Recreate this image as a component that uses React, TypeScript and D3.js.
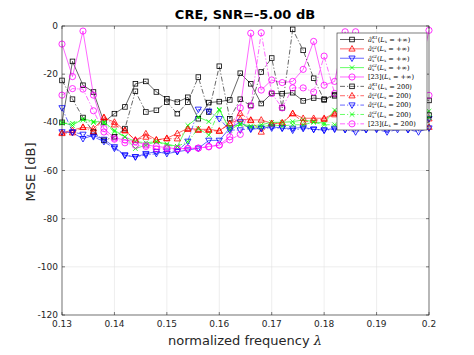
import React from "react";
import * as d3 from "d3";

const freqs = [0.13, 0.132, 0.134, 0.136, 0.138, 0.14, 0.142, 0.144, 0.146, 0.148, 0.15, 0.152, 0.154, 0.156, 0.158, 0.16, 0.162, 0.164, 0.166, 0.168, 0.17, 0.172, 0.174, 0.176, 0.178, 0.18, 0.182, 0.184, 0.186, 0.188, 0.19, 0.192, 0.194, 0.196, 0.198, 0.2];

const k1Inf = [-40, -14.7, -24.6, -27.4, -39.9, -36.4, -33.6, -24, -23, -27.4, -30.2, -31.6, -29.6, -38.5, -31.8, -31.4, -30.7, -19.6, -24, -32.2, -28, -28.1, -27.7, -31.1, -29.9, -30.4, -28.5, -30, -31, -30, -32, -31, -30, -31, -30, -30.9];
const c2aInf = [-44.3, -43.3, -42, -42.6, -38.2, -39.9, -43.3, -47.5, -44.7, -47.3, -46.6, -44.6, -42.5, -42.9, -42.9, -43.5, -40.4, -38.7, -39, -39, -40.4, -40.4, -36.3, -38.3, -38.3, -38.3, -36.3, -40, -41, -40, -39, -40, -41, -40, -39, -38.5];
const c2bInf = [-44, -44.3, -46.8, -45.4, -47.1, -50.2, -53.7, -54.4, -53, -52.2, -53, -52.2, -51.5, -50.8, -47.5, -47.5, -42.4, -39.9, -42.9, -42.5, -41.8, -42.4, -42.5, -42.1, -42.9, -43.2, -42.5, -43, -42, -43, -42.5, -43, -42, -43, -42, -38.5];
const c2cInf = [-40, -41.3, -38.5, -39.6, -39.9, -43.3, -46, -50.9, -49.5, -48, -49, -50, -41.3, -37.8, -39.7, -34.6, -43.3, -40.6, -41.5, -41, -40, -40, -39.7, -39, -39.7, -40.4, -34.9, -38, -39, -38, -37, -38, -39, -38, -37, -35.4];
const ref23Inf = [-7.5, -21, -2.1, -28.7, -42.6, -46.5, -47.3, -48, -49.4, -50, -50.5, -51, -50.8, -50.7, -50, -49.4, -46, -34, -3, -26.6, -22.4, -23.5, -23, -18, -6.4, -24.6, -23, -2.4, -20, -25, -22, -28, -20, -25, -22, -1.8];

const k1L200 = [-22.6, -30.4, -38, -44, -47.5, -46, -42.6, -27.1, -35.7, -35, -31.6, -36.4, -31.6, -21.2, -35.7, -16.7, -38.5, -30.4, -33, -19.1, -13.3, -34, -1.4, -10.1, -21.7, -30.7, -29, -30, -32, -30, -31, -33, -30, -32, -31, -37];
const c2aL200 = [-44.6, -44.3, -42.1, -43.9, -37.9, -41, -43.5, -47.3, -46.1, -47.3, -46.8, -46.8, -42.9, -43.3, -43.3, -43.7, -40.6, -36.3, -39.2, -44, -40.6, -40.1, -36.4, -39.9, -39.2, -38.7, -36.8, -41, -40, -42, -41, -40, -42, -41, -40, -42];
const c2bL200 = [-34, -44, -45, -46, -48, -50.8, -53.6, -54.3, -53.6, -53, -52, -52, -47.9, -34.6, -35.4, -38.5, -43.2, -43.2, -42.5, -42.5, -42.4, -42.4, -43.3, -42.6, -42.9, -43.3, -42.9, -43, -44, -43, -43, -44, -43, -43, -44, -42.4];
const c2cL200 = [-40.4, -40.4, -39, -40.1, -40.4, -43.9, -46, -48, -48.5, -48, -49.5, -50, -48, -42.6, -45.3, -35, -42, -41, -42, -42, -41, -41.5, -41, -41, -40, -41, -41, -41, -40, -41, -42, -41, -40, -41, -40, -38];
const ref23L200 = [-28.7, -26, -26.2, -35.2, -44, -47, -48.5, -49.5, -50, -51, -51, -51, -51, -50.7, -50.2, -49.5, -47.3, -45, -33.2, -2.8, -28, -34, -25.7, -25.7, -27.4, -12.5, -28, -26, -2.4, -25, -30, -22, -28, -26, -30, -28.8];

const xTicks = [0.13, 0.14, 0.15, 0.16, 0.17, 0.18, 0.19, 0.2];
const yTicks = [0, -20, -40, -60, -80, -100, -120];

const series = [
  { sup: "K1", lx: "+\u221E", values: k1Inf, color: "#000000", marker: "square", dashed: false },
  { sup: "c2", lx: "+\u221E", values: c2aInf, color: "#ff0000", marker: "triUp", dashed: false },
  { sup: "c2", lx: "+\u221E", values: c2bInf, color: "#0000ff", marker: "triDown", dashed: false },
  { sup: "c2", lx: "+\u221E", values: c2cInf, color: "#00ff00", marker: "x", dashed: false },
  { sup: "", lx: "+\u221E", values: ref23Inf, color: "#ff00ff", marker: "circle", dashed: false },
  { sup: "K1", lx: "200", values: k1L200, color: "#000000", marker: "square", dashed: true },
  { sup: "c2", lx: "200", values: c2aL200, color: "#ff0000", marker: "triUp", dashed: true },
  { sup: "c2", lx: "200", values: c2bL200, color: "#0000ff", marker: "triDown", dashed: true },
  { sup: "c2", lx: "200", values: c2cL200, color: "#00ff00", marker: "x", dashed: true },
  { sup: "", lx: "200", values: ref23L200, color: "#ff00ff", marker: "circle", dashed: true },
];

const W = 474, H = 355;
const L = 62, R = 429, T = 26, B = 315;

function Marker({ type, x, y, color }: { type: string; x: number; y: number; color: string }) {
  const common = { fill: "none", stroke: color, strokeWidth: 0.8 };
  if (type === "square") return <rect x={x - 2.3} y={y - 2.3} width={4.6} height={4.6} {...common} />;
  if (type === "circle") return <circle cx={x} cy={y} r={3.1} {...common} />;
  if (type === "triUp") return <path d={`M${x},${y - 3.3}L${x + 3.1},${y + 2.2}L${x - 3.1},${y + 2.2}Z`} {...common} />;
  if (type === "triDown") return <path d={`M${x},${y + 3.3}L${x + 3.1},${y - 2.2}L${x - 3.1},${y - 2.2}Z`} {...common} />;
  return <path d={`M${x - 2.3},${y - 2.3}L${x + 2.3},${y + 2.3}M${x - 2.3},${y + 2.3}L${x + 2.3},${y - 2.3}`} {...common} />;
}

export default function App() {
  const x = d3.scaleLinear().domain([0.13, 0.2]).range([L, R]);
  const y = d3.scaleLinear().domain([-120, 0]).range([B, T]);
  const line = d3.line<number>().x((_, i) => x(freqs[i])).y((v) => y(v));
  const dash = "5,2,1.2,2";
  const legX = 337, legY = 33, legW = 90, legH = 97;
  const rowH = 9.37;
  return (
    <svg width={W} height={H} style={{ position: "absolute", left: 0, top: 0, background: "#fff" }}>
      <rect x={0} y={0} width={W} height={H} fill="#fff" />
      {xTicks.map((t) => (
        <line key={"gx" + t} x1={x(t)} x2={x(t)} y1={T} y2={B} stroke="#e3e3e3" strokeWidth={0.6} />
      ))}
      {yTicks.map((t) => (
        <line key={"gy" + t} x1={L} x2={R} y1={y(t)} y2={y(t)} stroke="#e3e3e3" strokeWidth={0.6} />
      ))}
      {series.map((s, si) => (
        <g key={"s" + si}>
          <path d={line(s.values) || ""} fill="none" stroke={s.color} strokeWidth={0.6} strokeDasharray={s.dashed ? dash : undefined} />
          {s.values.map((v, i) => (
            <Marker key={i} type={s.marker} x={x(freqs[i])} y={y(v)} color={s.color} />
          ))}
        </g>
      ))}
      <rect x={L} y={T} width={R - L} height={B - T} fill="none" stroke="#262626" strokeWidth={0.6} />
      {xTicks.map((t) => (
        <g key={"xt" + t}>
          <line x1={x(t)} x2={x(t)} y1={B} y2={B - 3} stroke="#262626" strokeWidth={0.6} />
          <line x1={x(t)} x2={x(t)} y1={T} y2={T + 3} stroke="#262626" strokeWidth={0.6} />
          <text x={x(t)} y={B + 12} textAnchor="middle" fontFamily="DejaVu Sans" fontSize={9} fill="#262626">
            {t === 0.2 ? "0.2" : t.toFixed(2)}
          </text>
        </g>
      ))}
      {yTicks.map((t) => (
        <g key={"yt" + t}>
          <line x1={L} x2={L + 3} y1={y(t)} y2={y(t)} stroke="#262626" strokeWidth={0.6} />
          <line x1={R} x2={R - 3} y1={y(t)} y2={y(t)} stroke="#262626" strokeWidth={0.6} />
          <text x={L - 4} y={y(t) + 3} textAnchor="end" fontFamily="DejaVu Sans" fontSize={9} fill="#262626">
            {t}
          </text>
        </g>
      ))}
      <text x={245} y={19} textAnchor="middle" fontFamily="DejaVu Sans" fontWeight="bold" fontSize={13} fill="#000">
        CRE, SNR=-5.00 dB
      </text>
      <text x={245} y={345} textAnchor="middle" fontFamily="DejaVu Sans" fontSize={13} fill="#262626">
        normalized frequency <tspan fontFamily="DejaVu Serif" fontStyle="italic">{"\u03BB"}</tspan>
      </text>
      <text transform={`translate(35,172) rotate(-90)`} textAnchor="middle" fontFamily="DejaVu Sans" fontSize={13} fill="#262626">
        MSE [dB]
      </text>
      <rect x={legX} y={legY} width={legW} height={legH} fill="#fff" stroke="#262626" strokeWidth={0.6} />
      {series.map((s, i) => {
        const cy = legY + 6.5 + i * rowH;
        return (
          <g key={"lg" + i}>
            <line x1={legX + 3} x2={legX + 27} y1={cy} y2={cy} stroke={s.color} strokeWidth={0.6} strokeDasharray={s.dashed ? dash : undefined} />
            <Marker type={s.marker} x={legX + 15} y={cy} color={s.color} />
            <text x={legX + 31} y={cy + 2.4} fontFamily="DejaVu Serif" fontSize={6.6} fill="#000">
              {s.sup ? (
                <>
                  <tspan fontStyle="italic">{"\u00E2"}</tspan>
                  <tspan fontStyle="italic" fontSize={4.2} dy={1}>x</tspan>
                  <tspan fontStyle="italic" fontSize={4.2} dx={-2.4} dy={-3.6}>{s.sup}</tspan>
                  <tspan dy={2.6}>(</tspan>
                </>
              ) : (
                <tspan>[23](</tspan>
              )}
              <tspan fontStyle="italic">L</tspan>
              <tspan fontStyle="italic" fontSize={4.2} dy={1}>x</tspan>
              <tspan dy={-1}>{" = " + s.lx + ")"}</tspan>
            </text>
          </g>
        );
      })}
    </svg>
  );
}
